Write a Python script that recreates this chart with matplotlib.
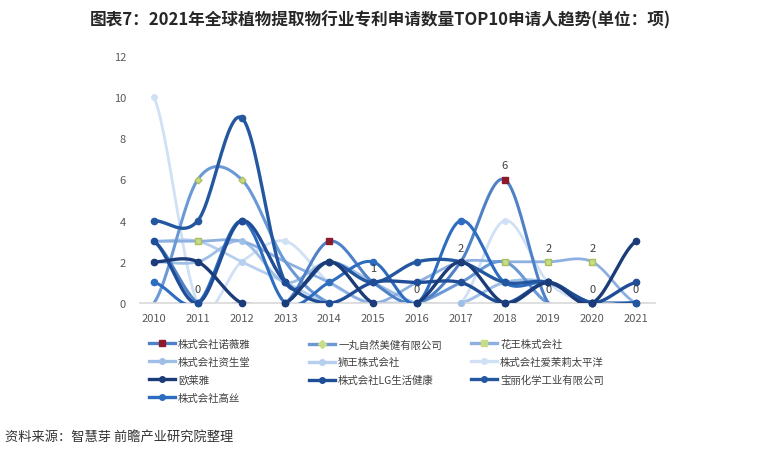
import numpy as np
import matplotlib.pyplot as plt
from matplotlib.lines import Line2D

plt.rcParams['font.family'] = ['Noto Sans CJK SC', 'DejaVu Sans']

years = [2010, 2011, 2012, 2013, 2014, 2015, 2016, 2017, 2018, 2019, 2020, 2021]

names = ["株式会社诺薇雅", "一丸自然美健有限公司", "花王株式会社",
         "株式会社资生堂", "狮王株式会社", "株式会社爱茉莉太平洋",
         "欧莱雅", "株式会社LG生活健康", "宝丽化学工业有限公司",
         "株式会社高丝"]

noevir = [3, 0, 0, 0, 3, 1, 0, 2, 6, 0, 0, 0]
ichimaru = [0, 6, 6, 2, 0, 0, 0, 1, 2, 0, 0, 0]
kao = [3, 3, 3, 2, 1, 0, 1, 2, 2, 2, 2, 0]
shiseido = [2, 2, 3, 1, 2, 1, 0, 0, 1, 1, 0, 0]
lion = [3, 3, 2, 1, 0, 0, 0, 0, 1, 1, 0, 0]
amore = [10, 0, 2, 3, 1, 0, 0, 0, 4, 1, 0, 0]
loreal = [2, 2, 0, 0, 2, 0, 0, 2, 0, 1, 0, 3]
lg = [3, 0, 4, 1, 0, 1, 1, 1, 0, 1, 0, 1]
pola = [4, 4, 9, 1, 2, 1, 2, 2, 1, 1, 0, 0]
kose = [1, 0, 4, 0, 1, 2, 0, 4, 1, 1, 0, 0]

series = [noevir, ichimaru, kao, shiseido, lion, amore, loreal, lg, pola, kose]
colors = ['#4f81c7', '#6a99d6', '#8db0e0', '#9fbfe7', '#b6cfee', '#d0e0f5',
          '#1b3c78', '#1f4d98', '#23579f', '#2e6cc0']
widths = [2.2, 2.2, 2.0, 2.0, 2.0, 2.0, 2.4, 2.4, 2.4, 2.2]

# data labels shown on the chart: (series index, year index)
labels = [(0, 1), (0, 5), (0, 6), (0, 7), (0, 8), (0, 9), (0, 10), (0, 11),
          (2, 9), (2, 10)]


def smooth(xs, ys, n=24):
    xs = np.asarray(xs, float)
    ys = np.asarray(ys, float)
    px = np.concatenate([[2 * xs[0] - xs[1]], xs, [2 * xs[-1] - xs[-2]]])
    py = np.concatenate([[ys[0]], ys, [ys[-1]]])
    ox, oy = [], []
    for i in range(1, len(px) - 2):
        p0, p1, p2, p3 = py[i - 1], py[i], py[i + 1], py[i + 2]
        t = np.linspace(0, 1, n, endpoint=False)
        b1 = p1 + (p2 - p0) / 6
        b2 = p2 - (p3 - p1) / 6
        y = (1 - t) ** 3 * p1 + 3 * (1 - t) ** 2 * t * b1 + 3 * (1 - t) * t ** 2 * b2 + t ** 3 * p2
        x = px[i] + t * (px[i + 1] - px[i])
        ox.append(x)
        oy.append(y)
    ox.append([xs[-1]])
    oy.append([ys[-1]])
    return np.concatenate(ox), np.concatenate(oy)


fig = plt.figure(figsize=(7.6, 4.56), dpi=100)
ax = fig.add_axes([140 / 760, 1 - 304 / 456, 515 / 760, 247 / 456])

order = [5, 4, 3, 2, 1, 0, 9, 8, 7, 6]
for i in order:
    vals = series[i]
    sx, sy = smooth(years, vals)
    ax.plot(sx, sy, color=colors[i], lw=widths[i], solid_capstyle='round', zorder=2 + (i >= 6))
    if i == 0:
        ax.plot([years[4], years[8]], [vals[4], vals[8]], 's', color='#8b1a2b',
                ms=5, mec='#8b1a2b', zorder=5, clip_on=False)
    elif i == 1:
        ax.plot([years[1], years[2]], [vals[1], vals[2]], 'D', color='#c9dc86',
                ms=3.5, mec='#a9c060', zorder=5, clip_on=False)
    elif i == 2:
        ax.plot([years[j] for j in (1, 8, 9, 10)], [vals[j] for j in (1, 8, 9, 10)], 's',
                color='#c9dc86', ms=4, mec='#a9c060', zorder=5, clip_on=False)
    else:
        ax.plot(years, vals, 'o', color=colors[i], ms=4.5 if i >= 6 else 4,
                zorder=3 + (i >= 6), clip_on=False)

for si, yi in labels:
    ax.text(years[yi], series[si][yi] + 0.45, str(series[si][yi]), ha='center',
            va='bottom', fontsize=8, color='#404040', zorder=6)

ax.set_xlim(2010 - 14 / 43.82, 2021 + 19 / 43.82)
ax.set_ylim(0, 12)
ax.set_xticks(years)
ax.set_yticks(range(0, 13, 2))
ax.tick_params(length=0, labelsize=8, colors='#595959', pad=7)
ax.tick_params(axis='y', pad=10)
for s in ['top', 'right', 'left']:
    ax.spines[s].set_visible(False)
ax.spines['bottom'].set_color('#d9d9d9')
ax.spines['bottom'].set_linewidth(1.2)
ax.patch.set_alpha(0)

# legend: three single-column legends placed like the reference grid
leg_markers = ['s', 'D', 's', 'o', 'o', 'o', 'o', 'o', 'o', 'o']
leg_mc = ['#8b1a2b', '#c9dc86', '#c9dc86'] + colors[3:]
hs = []
for i in range(10):
    hs.append(Line2D([0], [0], color=colors[i], lw=2.4, marker=leg_markers[i],
                     ms=4, mfc=leg_mc[i], mec=leg_mc[i]))
cols = [[0, 3, 6, 9], [1, 4, 7], [2, 5, 8]]
col_x = [149, 309, 471]
for c, xpix in zip(cols, col_x):
    leg = fig.legend([hs[p] for p in c], [names[p] for p in c], ncol=1,
                     loc='upper left', bbox_to_anchor=(xpix / 760, 1 - 340 / 456),
                     frameon=False, fontsize=7.5, handlelength=2.5, handletextpad=0.3,
                     labelspacing=0.75, borderaxespad=0, borderpad=0)
    for t in leg.get_texts():
        t.set_color('#404040')

fig.text(0.5, 1 - 20 / 456, "图表7：2021年全球植物提取物行业专利申请数量TOP10申请人趋势(单位：项)",
         ha='center', va='center', fontsize=12, fontweight='bold', color='#262626')
fig.text(5 / 760, 1 - 437 / 456, "资料来源：智慧芽 前瞻产业研究院整理",
         ha='left', va='center', fontsize=9.5, color='#333333')

fig.savefig("out.png", dpi=100)
